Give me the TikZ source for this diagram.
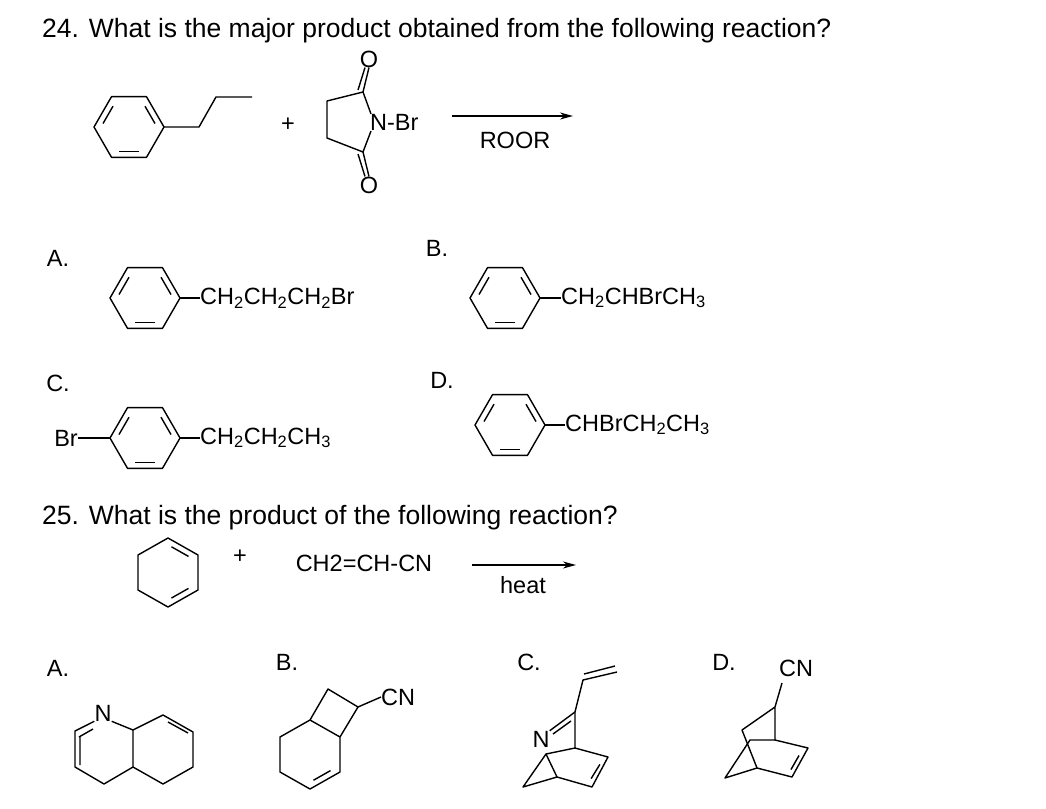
\documentclass[tikz,border=0pt]{standalone}
\usepackage{fontspec}
\setmainfont{Liberation Sans}
\usetikzlibrary{calc,arrows.meta}
\newcommand\benz[3]{%
 \foreach \a in {0,60,...,300}{\coordinate (#1-\a) at ($(#2,#3)+(\a:35)$);}
 \coordinate (#1-c) at (#2,#3);
 \draw[bond] (#1-0)--(#1-60)--(#1-120)--(#1-180)--(#1-240)--(#1-300)--cycle;
 \dbl{#1-180}{#1-240}{#1-c}\dbl{#1-300}{#1-0}{#1-c}\dbl{#1-60}{#1-120}{#1-c}}
\newcommand\dbl[3]{\draw[bond,shorten <=4,shorten >=4] ($(#1)!0.2!(#3)$)--($(#2)!0.2!(#3)$);}
\begin{document}
\begin{tikzpicture}[x=1pt,y=-1pt,
 bond/.style={line width=1.4,line join=round},
 big/.style={font=\fontsize{26.5}{30}\selectfont,inner sep=0},
 lab/.style={font=\fontsize{23.5}{26}\selectfont,inner sep=0},
 arr/.style={bond,-{Stealth[length=13,width=7]}}]
\useasboundingbox (0,0) rectangle (1046,808);
% Q24
\node[big,anchor=west] (q24) at (42,31) {24. What is the major product obtained from the following reaction?};
\benz{r}{129}{127}
\coordinate (p1) at (199,127);\coordinate (p2) at (216,97);\coordinate (p3) at (252,97);
\draw[bond] (r-0)--(p1)--(p2)--(p3);
\node[lab] (plus1) at (288,125) {+};
\coordinate (c1) at (327,101);\coordinate (c2) at (327,138);
\coordinate (ct) at (363,92);\coordinate (cb) at (363,152);
\coordinate (n1) at (371,114);\coordinate (n2) at (371,131);
\node[lab] (ot) at (369,59) {O};
\node[lab] (ob) at (369,185) {O};
\node[lab,anchor=west] (nbr) at (370,122) {N-Br};
\draw[bond] (n1)--(ct)--(c1)--(c2)--(cb)--(n2);
\draw[bond] (ct)--(ot.south) ($(ct)+(-5,-2)$)--($(ot.south)+(-4,0)$);
\draw[bond] (cb)--(ob.north) ($(cb)+(-5,2)$)--($(ob.north)+(-4,0)$);
\coordinate (a1) at (452,116);\coordinate (a2) at (573,116);
\draw[arr] (a1)--(a2);
\node[lab] (roor) at (515,140) {ROOR};
% options
\node[lab] (la) at (58,258) {A.};
\benz{a}{145}{298}
\node[lab,anchor=west] (ta) at (200,298) {CH\textsubscript{2}CH\textsubscript{2}CH\textsubscript{2}Br};
\draw[bond] (a-0)--(ta.west);
\node[lab] (lb) at (437,248) {B.};
\benz{b}{505}{298}
\node[lab,anchor=west] (tb) at (561,298) {CH\textsubscript{2}CHBrCH\textsubscript{3}};
\draw[bond] (b-0)--(tb.west);
\node[lab] (lc) at (58,383) {C.};
\node[lab,anchor=east] (br) at (78,438) {Br};
\benz{cc}{145}{438}
\node[lab,anchor=west] (tc) at (200,438) {CH\textsubscript{2}CH\textsubscript{2}CH\textsubscript{3}};
\draw[bond] (br.east)--(cc-180) (cc-0)--(tc.west);
\node[lab] (ld) at (442,380) {D.};
\benz{d}{510}{425}
\node[lab,anchor=west] (td) at (565,425) {CHBrCH\textsubscript{2}CH\textsubscript{3}};
\draw[bond] (d-0)--(td.west);
% Q25
\node[big,anchor=west] (q25) at (42,518) {25. What is the product of the following reaction?};
\coordinate (h1) at (168,538);\coordinate (h2) at (198,555);\coordinate (h3) at (198,590);
\coordinate (h4) at (168,607);\coordinate (h5) at (138,590);\coordinate (h6) at (138,555);
\coordinate (hc) at (168,572);
\draw[bond] (h1)--(h2)--(h3)--(h4)--(h5)--(h6)--cycle;
\dbl{h1}{h2}{hc}\dbl{h3}{h4}{hc}
\node[lab] (plus2) at (240,557) {+};
\node[lab] (acn) at (364,563) {CH2=CH-CN};
\coordinate (b1) at (472,565);\coordinate (b2) at (576,565);
\draw[arr] (b1)--(b2);
\node[lab] (heat) at (523,585) {heat};
% products
\node[lab] (pa) at (58,668) {A.};
\node[lab] (an) at (103,713) {N};
\coordinate (x1) at (75,731);\coordinate (x2) at (75,767);\coordinate (x3) at (104,784);
\coordinate (x4) at (133,767);\coordinate (x5) at (133,730);\coordinate (x6) at (163,715);
\coordinate (x7) at (193,732);\coordinate (x8) at (193,767);\coordinate (x9) at (163,784);
\draw[bond] (an.south west)--(x1)--(x2)--(x3)--(x4)--(x5)--(an.south east);
\draw[bond] (x5)--(x6)--(x7)--(x8)--(x9)--(x4);
\draw[bond] (79,737)--(93,729) (80,737)--(80,765) (168,722)--(188,733);
\node[lab] (pb) at (287,662) {B.};
\coordinate (y1) at (310,720);\coordinate (y2) at (280,737);\coordinate (y3) at (280,772);
\coordinate (y4) at (310,789);\coordinate (y5) at (340,772);\coordinate (y6) at (340,737);
\coordinate (y7) at (328,689);\coordinate (y8) at (358,707);\coordinate (yc) at (310,755);
\draw[bond] (y1)--(y2)--(y3)--(y4)--(y5)--(y6)--cycle (y1)--(y7)--(y8)--(y6);
\dbl{y4}{y5}{yc}
\node[lab,anchor=west] (bcn) at (381,697) {CN};
\draw[bond] (y8)--(bcn.west);
\node[lab] (pc) at (529,662) {C.};
\node[lab] (cn) at (541,739) {N};
\coordinate (z1) at (575,712);\coordinate (z2) at (583,680);\coordinate (z3) at (617,672);
\coordinate (z4) at (575,748);\coordinate (z5) at (608,757);\coordinate (z6) at (592,787);
\coordinate (z7) at (557,777);\coordinate (z8) at (523,787);\coordinate (z9) at (546,754);
\draw[bond] (z3)--(z2)--(z1)--(z4)--(z5)--(z6)--(z7)--(z9)--(z8)--(z7);
\draw[bond] (584,674)--(615,666);
\draw[bond] (z1)--(cn.north east) (571,721)--(553,734) (z9)--(z4);
\draw[bond,shorten <=4,shorten >=4] (602,761)--(589,782);
\node[lab] (pd) at (724,662) {D.};
\node[lab] (dcn) at (796,668) {CN};
\coordinate (w0) at (782,683);
\coordinate (w1) at (775,707);\coordinate (w2) at (742,730);\coordinate (w3) at (757,768);
\coordinate (w4) at (775,740);\coordinate (w5) at (808,748);\coordinate (w6) at (792,777);
\coordinate (w7) at (725,778);\coordinate (w8) at (750,740);
\draw[bond] (w0)--(w1)--(w2)--(w3)--(w6)--(w5)--(w4)--(w1);
\draw[bond] (w3)--(w7)--(w8)--(w4);
\draw[bond,shorten <=4,shorten >=4] (801,752)--(789,773);
\end{tikzpicture}
\end{document}
